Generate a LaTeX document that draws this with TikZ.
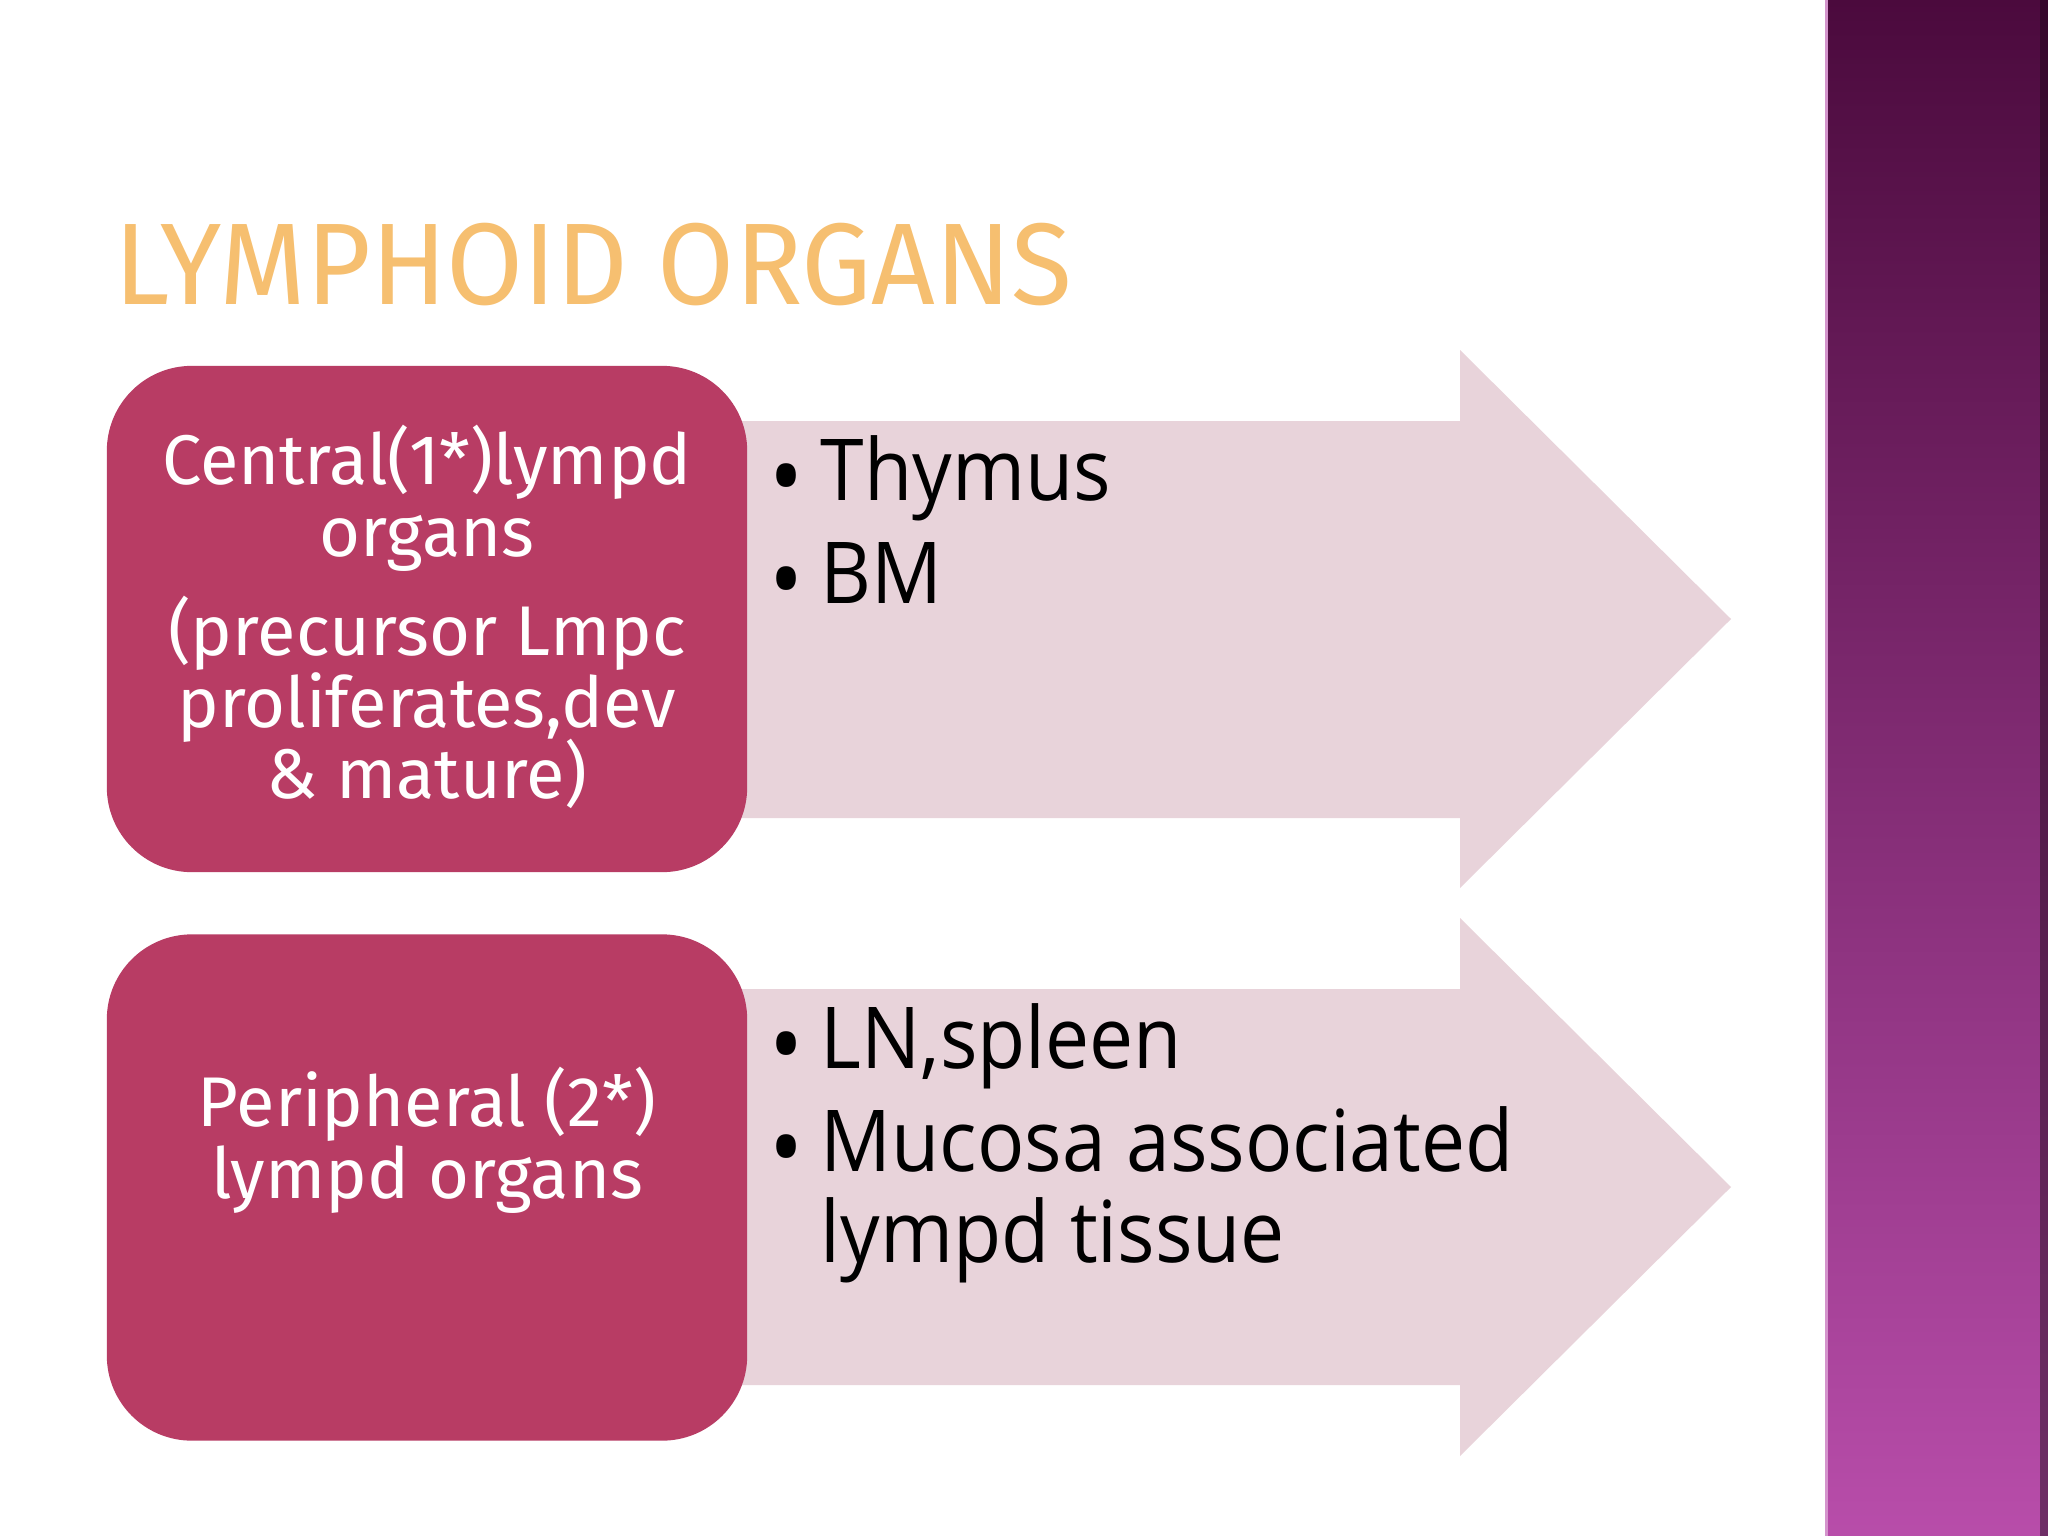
\documentclass[tikz,border=0pt]{standalone}
\usepackage{fontspec}
\setmainfont{Fira Sans}
\newfontfamily\boxfont{Fira Sans}
\newfontfamily\bulfont[FakeStretch=0.92]{Open Sans}
\newfontfamily\titlefont[FakeStretch=0.96]{Fira Sans}
\definecolor{boxcol}{HTML}{B83C64}
\definecolor{arrcol}{HTML}{E8D3DA}
\definecolor{barTop}{HTML}{4B0A3D}
\definecolor{barMid}{HTML}{8A3379}
\definecolor{barBot}{HTML}{B84DAA}
\definecolor{titlecol}{HTML}{F6BF70}
\newcommand{\tightlines}{\lineskiplimit -30pt\relax}
\newcommand{\boxsize}{\boxfont\fontsize{20}{20.4}\selectfont\tightlines}
\tikzset{
  organbox/.style={fill=boxcol, draw=none, rounded corners=0.85cm, minimum width=6.4cm, minimum height=5.06cm, inner sep=0pt},
  boxtext/.style={text=white, align=center, inner sep=0pt, font=\boxsize},
  bultext/.style={text=black, inner sep=0pt, anchor=base west, font=\bulfont\fontsize{24.3}{25.3}\selectfont},
  arrowshape/.style={fill=arrcol, draw=none}
}
\newcommand{\bul}{\makebox[14.5pt][l]{\raisebox{-3.4pt}{\fontsize{28}{28}\selectfont •}}}
\begin{document}
\begin{tikzpicture}[x=0.01cm,y=-0.01cm]
\useasboundingbox (0,0) rectangle (2048,1536);
\fill[white] (0,0) rectangle (2048,1536);
% right bar
\shade[top color=barTop, middle color=barMid, bottom color=barBot] (1826,0) rectangle (2048,1536);
\shade[top color=barTop!70!black, bottom color=barBot!60!black] (2040,0) rectangle (2048,1536);
\fill[barBot!60!white] (1825,0) rectangle (1828,1536);
% title
\node[anchor=base west, inner sep=0pt, text=titlecol, font=\titlefont\fontsize{33}{33}\selectfont] (title) at (114,304) {LYMPHOID ORGANS};
% arrows
\fill[arrowshape] (700,421) -- (1460,421) -- (1460,350) -- (1731,619) -- (1460,888) -- (1460,818) -- (700,818) -- cycle;
\fill[arrowshape] (700,989) -- (1460,989) -- (1460,918) -- (1731,1187) -- (1460,1456) -- (1460,1385) -- (700,1385) -- cycle;
% boxes
\node[organbox] (central) at (427,619) {};
\node[organbox] (peripheral) at (427,1187.5) {};
\node[boxtext] (ctext) at (427,617) {Central(1*)lympd\\organs\\[7.8pt](precursor Lmpc\\proliferates,dev\\\& mature)};
\node[boxtext] (ptext) at (427,1140) {Peripheral (2*)\\lympd organs};
% bullets
\node[bultext] (b1) at (769,500) {\bul Thymus};
\node[bultext] (b2) at (769,603) {\bul BM};
\node[bultext] (b3) at (769,1068) {\bul LN,spleen};
\node[bultext] (b4) at (769,1171) {\begin{tabular}[t]{@{}l@{}}\bul Mucosa associated\\\hspace*{14.5pt}lympd tissue\end{tabular}};
\end{tikzpicture}
\end{document}
